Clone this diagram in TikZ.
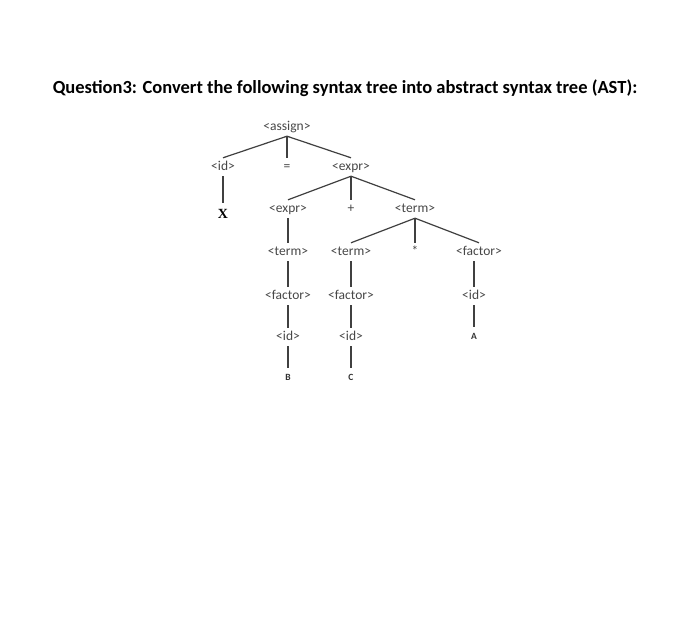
\documentclass[tikz,border=0pt]{standalone}
\usepackage{fontspec}
\setmainfont{Carlito}
\newfontfamily\treefont{Carlito}
\newfontfamily\xfont{Liberation Serif}
\begin{document}
\begin{tikzpicture}[x=1pt,y=-1pt,
  lab/.style={font=\treefont\fontsize{13.5}{15}\selectfont, text=black!72, inner xsep=2pt, inner ysep=4pt, text height=8pt, text depth=2pt},
  leaf/.style={font=\treefont\bfseries\fontsize{9.5}{11}\selectfont, text=black!80, inner ysep=5pt, text height=7pt, text depth=2pt},
  edge/.style={draw=black!75, line width=1.2pt}]
\useasboundingbox[fill=white] (0,0) rectangle (700,634);
\node[font=\bfseries\fontsize{18.5}{22}\selectfont] (title) at (345,88) {Question3: Convert the following syntax tree into abstract syntax tree (AST):};
% level 0
\node[lab] (assign) at (287,127) {<assign>};
% level 1
\node[lab] (id1) at (223,167) {<id>};
\node[lab] (eq) at (287,167) {=};
\node[lab] (expr1) at (351,167) {<expr>};
% level 2
\node[font=\xfont\bfseries\fontsize{14}{16}\selectfont, inner ysep=6pt, text height=9pt, text depth=0pt] (X) at (223,214) {X};
\node[lab] (expr2) at (288,209) {<expr>};
\node[lab] (plus) at (351,209) {+};
\node[lab] (term1) at (415,209) {<term>};
% level 3
\node[lab] (term2) at (288,252) {<term>};
\node[lab] (term3) at (351,252) {<term>};
\node[lab] (star) at (415,252) {*};
\node[lab] (factor1) at (479,252) {<factor>};
% level 4
\node[lab] (factor2) at (288,296) {<factor>};
\node[lab] (factor3) at (351,296) {<factor>};
\node[lab] (id2) at (474,296) {<id>};
% level 5
\node[lab] (id3) at (288,337) {<id>};
\node[lab] (id4) at (351,337) {<id>};
\node[leaf] (A) at (474,337) {A};
% level 6
\node[leaf] (B) at (288,378) {B};
\node[leaf] (C) at (351,378) {C};
% edges
\draw[edge] (assign.south) -- (id1.north);
\draw[edge] (assign.south) -- (eq.north);
\draw[edge] (assign.south) -- (expr1.north);
\draw[edge] (id1.south) -- (X.north);
\draw[edge] (expr1.south) -- (expr2.north);
\draw[edge] (expr1.south) -- (plus.north);
\draw[edge] (expr1.south) -- (term1.north);
\draw[edge] (expr2.south) -- (term2.north);
\draw[edge] (term1.south) -- (term3.north);
\draw[edge] (term1.south) -- (star.north);
\draw[edge] (term1.south) -- (factor1.north);
\draw[edge] (term2.south) -- (factor2.north);
\draw[edge] (term3.south) -- (factor3.north);
\draw[edge] (id2.north |- factor1.south) -- (id2.north);
\draw[edge] (factor2.south) -- (id3.north);
\draw[edge] (factor3.south) -- (id4.north);
\draw[edge] (id2.south) -- (A.north);
\draw[edge] (id3.south) -- (B.north);
\draw[edge] (id4.south) -- (C.north);
\end{tikzpicture}
\end{document}
